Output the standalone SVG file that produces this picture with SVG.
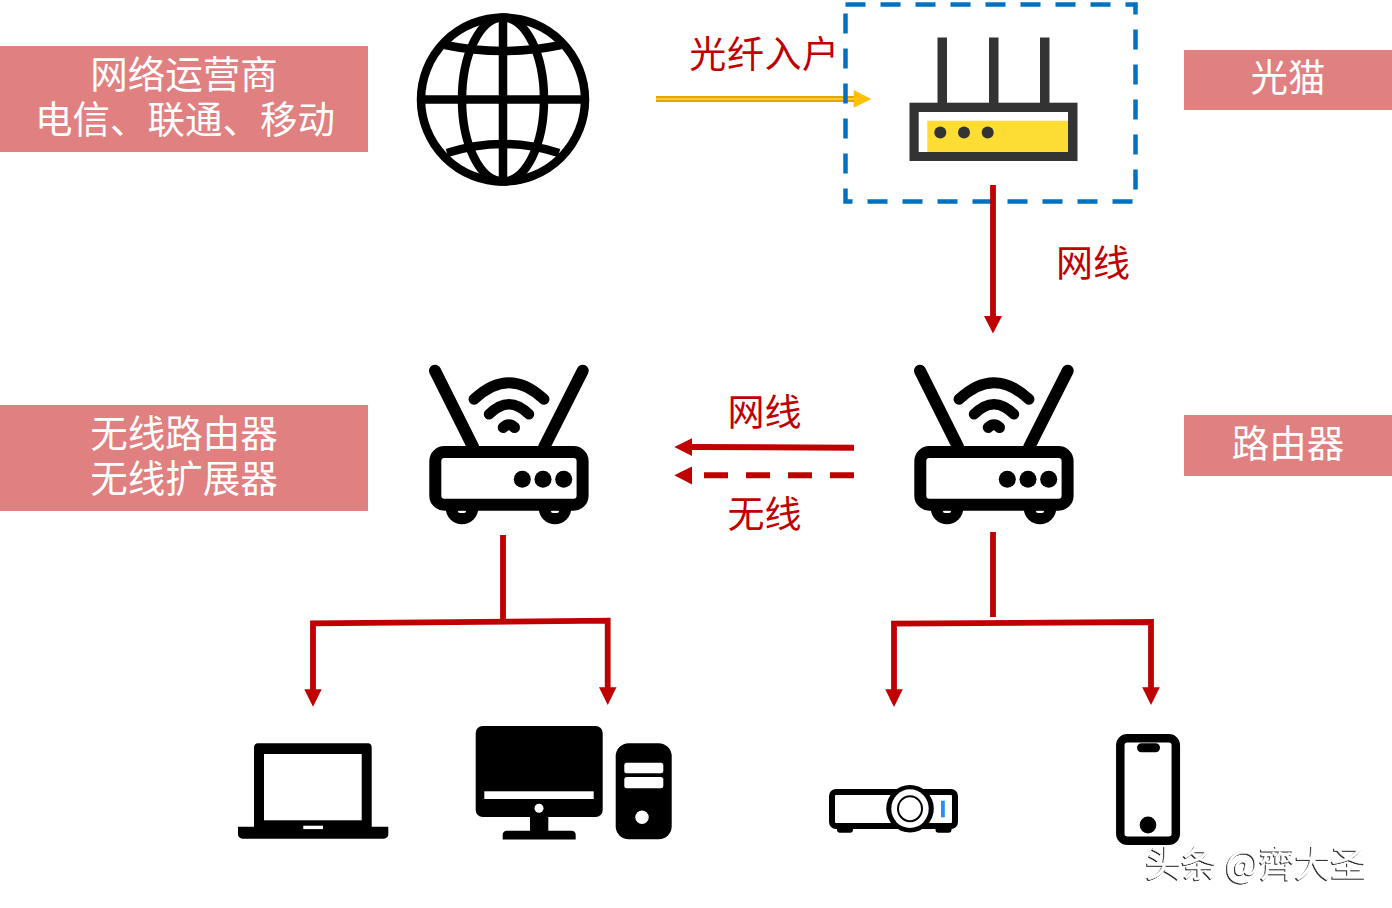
<svg xmlns="http://www.w3.org/2000/svg" xmlns:xlink="http://www.w3.org/1999/xlink" width="1392" height="908" viewBox="0 0 1392 908">
<style>
text{font-family:"Noto Sans CJK SC","Liberation Sans",sans-serif;text-anchor:middle}
.lab{fill:#fff;font-size:37.500px}
.red{fill:#c00000;font-size:37px}
.box{fill:#e08080}
.conn{fill:none;stroke:#c00000;stroke-width:5.800}
.head{fill:#c00000}
.k{fill:#000}
.w{fill:#fff}
.wm{font-size:35.800px;fill:#fff;stroke:#fff;stroke-width:.4px;filter:drop-shadow(-1px 1px 0 #222)}
</style>
<defs>
<g id="router">
<circle cx="33" cy="138" r="16.300" class="k"/>
<circle cx="126" cy="138" r="16.300" class="k"/>
<ellipse cx="33" cy="141.500" rx="4" ry="1.500" class="w"/>
<ellipse cx="126" cy="141.500" rx="4" ry="1.500" class="w"/>
<g fill="none" stroke="#000" stroke-linecap="round">
<path d="M6 0.700L44 76.700M153.700 0.700L115.300 76.700" stroke-width="12"/>
<path d="M45 29.300Q80 -4 115 29.300" stroke-width="11"/>
<path d="M60 44.300Q80 24 100 44.300" stroke-width="10.500"/>
<path d="M74.200 57.500Q80 52 85.500 57.500" stroke-width="11"/>
</g>
<rect x="6.300" y="82" width="147.300" height="52.700" rx="9" fill="#fff" stroke="#000" stroke-width="12"/>
<circle cx="93.300" cy="109.300" r="8.500" class="k"/>
<circle cx="114" cy="109.300" r="8.500" class="k"/>
<circle cx="134.700" cy="109.300" r="8.500" class="k"/>
</g>
</defs>
<rect width="1392" height="908" fill="#fff"/>

<g id="label-isp"><rect class="box" x="0" y="46" width="368" height="106"/>
<text class="lab"><tspan x="184" y="88">网络运营商</tspan><tspan x="185" y="133">电信、联通、移动</tspan></text></g>
<g id="label-modem"><rect class="box" x="1184" y="50" width="208" height="60"/><text class="lab" x="1288" y="91">光猫</text></g>
<g id="label-wireless"><rect class="box" x="0" y="405" width="368" height="106"/>
<text class="lab"><tspan x="184" y="447">无线路由器</tspan><tspan x="184" y="492">无线扩展器</tspan></text></g>
<g id="label-router"><rect class="box" x="1184" y="415" width="208" height="61"/><text class="lab" x="1288" y="457">路由器</text></g>

<g id="internet" fill="none" stroke="#000" stroke-width="8.500">
<circle cx="503" cy="99.500" r="82"/>
<ellipse cx="503" cy="99.500" rx="41" ry="82"/>
<path d="M503 17.500V181.500M421 99.500H585"/>
<path d="M445 45Q503 57 561 45M447 153Q503 135 559 153"/>
</g>

<g id="modem">
<rect x="937.500" y="37.500" width="9.500" height="66" fill="#333"/>
<rect x="989" y="37.500" width="9.500" height="66" fill="#333"/>
<rect x="1040" y="37.500" width="9.500" height="66" fill="#333"/>
<rect x="909.500" y="102.700" width="168" height="58.300" fill="#333"/>
<rect x="918.700" y="112" width="149.300" height="40" fill="#fff"/>
<rect x="927.300" y="120.700" width="140.700" height="31.300" fill="#fddc33"/>
<circle cx="940.300" cy="132.500" r="6" fill="#333"/>
<circle cx="964" cy="132.500" r="6" fill="#333"/>
<circle cx="987.700" cy="132.500" r="6" fill="#333"/>
</g>

<g id="connectors">
<path d="M656 99H856" stroke="#e0a800" stroke-width="6" fill="none"/>
<path d="M656 99H856" stroke="#ffd84a" stroke-width="1.500" fill="none"/>
<path d="M853.700 90L871.300 99L853.700 107.700Z" fill="#ffc000"/>
<rect id="modem-box" x="845.500" y="4.500" width="290" height="197" fill="none" stroke="#0070c0" stroke-width="4.500" stroke-dasharray="20 15"/>
<path class="conn" d="M993 185V318"/><path class="head" d="M984 316H1002L993 333.500Z"/>
<path class="conn" d="M854 447.700L690 447" style="stroke-width:6"/><path class="head" d="M692 438.300V456L674.300 447Z"/>
<path class="conn" d="M854 475.300H704" style="stroke-width:6;stroke-dasharray:24 18"/><path class="head" d="M692 466.500V484.500L674.300 475.300Z"/>
<path class="conn" d="M503 535V620"/>
<path class="conn" d="M313 691V623.300L607.700 620.700V689"/>
<path class="head" d="M304.300 689.300H321.700L313 706.700Z"/><path class="head" d="M599 687.300H616.500L607.700 705Z"/>
<path class="conn" d="M993 532V617"/>
<path class="conn" d="M894 691V623.700L1151 622V689"/>
<path class="head" d="M885.200 689.300H902.800L894 707Z"/><path class="head" d="M1142.200 687.300H1159.800L1151 705Z"/>
</g>

<g id="edge-labels">
<text class="red" x="764.500" y="68" style="letter-spacing:.6px">光纤入户</text>
<text class="red" x="1093" y="277">网线</text>
<text class="red" x="764.500" y="425.500">网线</text>
<text class="red" x="764.500" y="527.500">无线</text>
</g>

<g id="wireless-router"><use xlink:href="#router" href="#router" x="429" y="370"/></g>
<g id="router-main"><use xlink:href="#router" href="#router" x="914" y="370"/></g>

<g id="laptop">
<path class="k" d="M254 826.700V747a4 4 0 0 1 4-3.700H368a4 4 0 0 1 3.700 3.700V826.700H388.300V834a4.500 4.500 0 0 1-4.500 4.700H242.500A4.500 4.500 0 0 1 238 834V826.700Z"/>
<rect class="w" x="264" y="754" width="97.700" height="66.300"/>
<rect class="w" x="303.300" y="825.700" width="19.700" height="3.400"/>
</g>

<g id="desktop">
<rect class="k" x="475.700" y="726" width="127" height="91" rx="7"/>
<rect class="w" x="484.300" y="791.300" width="109.400" height="7.700"/>
<circle class="w" cx="539" cy="808.300" r="4.500"/>
<rect class="k" x="530" y="816" width="18.300" height="16"/>
<path class="k" d="M502.700 839.500V835a4 4 0 0 1 4-4.300H571.700a4 4 0 0 1 4 4.300V839.500Z"/>
<rect class="k" x="615.700" y="743.300" width="56" height="96" rx="13"/>
<rect class="w" x="624.300" y="762.700" width="39" height="10.600" rx="2.500"/>
<rect class="w" x="624.300" y="777" width="39" height="11.300" rx="2.500"/>
<circle class="w" cx="642" cy="817.300" r="6.700"/>
</g>

<g id="projector">
<rect class="k" x="837" y="824" width="16" height="8.700" rx="3"/>
<rect class="k" x="935.500" y="824" width="16" height="8.700" rx="3"/>
<rect x="832" y="792" width="123" height="34" rx="4" fill="#fff" stroke="#000" stroke-width="6"/>
<ellipse class="k" cx="910" cy="808.700" rx="23.800" ry="23.800"/>
<ellipse class="w" cx="910" cy="808.700" rx="18.700" ry="19.400"/>
<ellipse cx="910" cy="808.700" rx="12" ry="12.500" fill="none" stroke="#000" stroke-width="2"/>
<rect x="941" y="800.700" width="3.800" height="16.600" fill="#1e90ff"/>
</g>

<g id="phone">
<rect x="1120.300" y="738.300" width="55.500" height="102.500" rx="7" fill="#fff" stroke="#000" stroke-width="8.500"/>
<rect class="k" x="1137" y="743.300" width="23" height="9" rx="4.500"/>
<ellipse class="k" cx="1148" cy="825" rx="8.300" ry="8.500"/>
</g>

<g id="watermark">
<text class="wm" x="1256" y="877">头条 @齊大圣</text>
</g>
</svg>
